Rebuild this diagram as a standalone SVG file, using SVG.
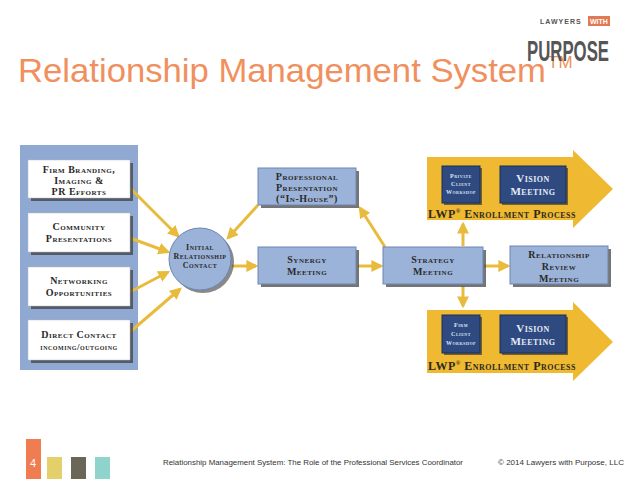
<svg xmlns="http://www.w3.org/2000/svg" width="638" height="479" viewBox="0 0 638 479">
<defs>
<style>
.sc{font-family:"Liberation Serif",serif;font-weight:bold;text-anchor:middle;fill:#2a2a2a;font-variant:small-caps;letter-spacing:0.5px}
.wb{fill:#fff;stroke:#bbb;stroke-width:0.5}
.bb{fill:#9bb3d8;stroke:#6c86b4;stroke-width:1}
.nb{fill:#2f4a80;stroke:#1b2e55;stroke-width:1}
.sh{fill:#3a3a3a;opacity:0.7}
.cn{stroke:#e9bb3c;stroke-width:3;fill:none}
.lb{font-family:"Liberation Serif",serif;font-weight:bold;fill:#2a2a1a;font-variant:small-caps;font-size:12px;letter-spacing:0.5px}
.ft{font-family:"Liberation Sans",sans-serif;font-size:7.5px;fill:#333}
</style>
<marker id="ah" viewBox="0 0 10 10" refX="8" refY="5" markerWidth="4" markerHeight="4" orient="auto"><path d="M0,0L10,5L0,10z" fill="#e9bb3c"/></marker>
</defs>
<rect width="638" height="479" fill="#fff"/>
<text x="18" y="82" font-family="Liberation Sans,sans-serif" font-size="33" fill="#f0905e" textLength="528" lengthAdjust="spacingAndGlyphs">Relationship Management System</text>
<text x="548" y="68" font-family="Liberation Sans,sans-serif" font-size="17" fill="#f0905e">TM</text>
<g id="logo">
<text x="540" y="24" font-family="Liberation Sans,sans-serif" font-size="7" font-weight="bold" fill="#555" letter-spacing="1">LAWYERS</text>
<rect x="588" y="16" width="22" height="10" fill="#e07a52"/>
<text x="590" y="24" font-family="Liberation Sans,sans-serif" font-size="7" font-weight="bold" fill="#fff">WITH</text>
<text x="527" y="61" font-family="Liberation Sans,sans-serif" font-size="30" font-weight="bold" fill="#555" textLength="82" lengthAdjust="spacingAndGlyphs">PURPOSE</text>
</g>
<g id="left-panel">
<rect x="20" y="145" width="118" height="225" fill="#8fa9d2"/>
</g>
<g id="connectors">
<line class="cn" x1="130" y1="188" x2="178" y2="236" marker-end="url(#ah)"/>
<line class="cn" x1="130" y1="238" x2="168" y2="252" marker-end="url(#ah)"/>
<line class="cn" x1="130" y1="292" x2="168" y2="272" marker-end="url(#ah)"/>
<line class="cn" x1="130" y1="332" x2="180" y2="289" marker-end="url(#ah)"/>
<line class="cn" x1="258" y1="205" x2="228" y2="238" marker-end="url(#ah)"/>
<line class="cn" x1="232" y1="266" x2="256" y2="266" marker-end="url(#ah)"/>
<line class="cn" x1="358" y1="266" x2="381" y2="266" marker-end="url(#ah)"/>
<line class="cn" x1="385" y1="247" x2="360" y2="208" marker-end="url(#ah)"/>
<line class="cn" x1="484" y1="266" x2="508" y2="266" marker-end="url(#ah)"/>
<line class="cn" x1="463" y1="246" x2="463" y2="224" marker-end="url(#ah)"/>
<line class="cn" x1="463" y1="286" x2="463" y2="306" marker-end="url(#ah)"/>
</g>
<g id="n-branding"><rect class="sh" x="31" y="163" width="102" height="38"/><rect class="wb" x="28" y="160" width="102" height="38"/>
<text class="sc" font-size="10" x="79" y="173">Firm Branding,</text><text class="sc" font-size="10" x="79" y="184">Imaging &amp;</text><text class="sc" font-size="10" x="79" y="195">PR Efforts</text></g>
<g id="n-community"><rect class="sh" x="31" y="216" width="102" height="39"/><rect class="wb" x="28" y="213" width="102" height="39"/>
<text class="sc" font-size="10" x="79" y="230">Community</text><text class="sc" font-size="10" x="79" y="242">Presentations</text></g>
<g id="n-networking"><rect class="sh" x="31" y="270" width="102" height="39"/><rect class="wb" x="28" y="267" width="102" height="39"/>
<text class="sc" font-size="10" x="79" y="284">Networking</text><text class="sc" font-size="10" x="79" y="296">Opportunities</text></g>
<g id="n-direct"><rect class="sh" x="31" y="323" width="102" height="40"/><rect class="wb" x="28" y="320" width="102" height="40"/>
<text class="sc" font-size="10" x="79" y="338">Direct Contact</text><text class="sc" font-size="9" x="79" y="350">incoming/outgoing</text></g>
<g id="n-initial"><circle cx="203" cy="262" r="31" fill="#3a3a3a" opacity="0.6"/><circle cx="200" cy="259" r="31" class="bb"/>
<text class="sc" font-size="8" x="200" y="250">Initial</text><text class="sc" font-size="8" x="200" y="259">Relationship</text><text class="sc" font-size="8" x="200" y="268">Contact</text></g>
<g id="n-professional"><rect class="sh" x="261" y="171" width="98" height="37"/><rect class="bb" x="258" y="168" width="98" height="37"/>
<text class="sc" font-size="10" x="307" y="180">Professional</text><text class="sc" font-size="10" x="307" y="191">Presentation</text><text class="sc" font-size="10" x="307" y="202">(“In-House”)</text></g>
<g id="n-synergy"><rect class="sh" x="261" y="250" width="98" height="37"/><rect class="bb" x="258" y="247" width="98" height="37"/>
<text class="sc" font-size="10" x="307" y="263">Synergy</text><text class="sc" font-size="10" x="307" y="275">Meeting</text></g>
<g id="n-strategy"><rect class="sh" x="386" y="250" width="100" height="37"/><rect class="bb" x="383" y="247" width="100" height="37"/>
<text class="sc" font-size="10" x="433" y="263">Strategy</text><text class="sc" font-size="10" x="433" y="275">Meeting</text></g>
<g id="n-review"><rect class="sh" x="513" y="249" width="98" height="38"/><rect class="bb" x="510" y="246" width="98" height="38"/>
<text class="sc" font-size="10" x="559" y="258">Relationship</text><text class="sc" font-size="10" x="559" y="270">Review</text><text class="sc" font-size="10" x="559" y="282">Meeting</text></g>
<g id="n-enroll-top">
<path d="M427,157H573V150L613,189L573,228V220H427z" fill="#f0b932"/>
<rect class="sh" x="444" y="168" width="38" height="37"/><rect class="nb" x="442" y="166" width="38" height="37"/>
<text class="sc" font-size="6" style="fill:#dde6f5" x="461" y="178">Private</text><text class="sc" font-size="6" style="fill:#dde6f5" x="461" y="186">Client</text><text class="sc" font-size="6" style="fill:#dde6f5" x="461" y="194">Workshop</text>
<rect class="sh" x="502" y="168" width="66" height="37"/><rect class="nb" x="500" y="166" width="66" height="37"/>
<text class="sc" font-size="11" style="fill:#e6ecf8" x="533" y="182">Vision</text><text class="sc" font-size="11" style="fill:#e6ecf8" x="533" y="195">Meeting</text>
<text class="lb" x="428" y="218">LWP<tspan font-size="6" dy="-5">®</tspan><tspan dy="5"> Enrollment Process</tspan></text>
</g>
<g id="n-enroll-bottom">
<path d="M427,310H573V302L613,342L573,381V373H427z" fill="#f0b932"/>
<rect class="sh" x="444" y="317" width="38" height="38"/><rect class="nb" x="442" y="315" width="38" height="38"/>
<text class="sc" font-size="6" style="fill:#dde6f5" x="461" y="327">Firm</text><text class="sc" font-size="6" style="fill:#dde6f5" x="461" y="336">Client</text><text class="sc" font-size="6" style="fill:#dde6f5" x="461" y="345">Workshop</text>
<rect class="sh" x="502" y="317" width="66" height="38"/><rect class="nb" x="500" y="315" width="66" height="38"/>
<text class="sc" font-size="11" style="fill:#e6ecf8" x="533" y="332">Vision</text><text class="sc" font-size="11" style="fill:#e6ecf8" x="533" y="345">Meeting</text>
<text class="lb" x="428" y="370">LWP<tspan font-size="6" dy="-5">®</tspan><tspan dy="5"> Enrollment Process</tspan></text>
</g>
<g id="footer">
<rect x="26" y="439" width="15" height="40" fill="#f07c52"/>
<text x="30" y="467" font-family="Liberation Sans,sans-serif" font-size="11" fill="#fff">4</text>
<rect x="47" y="457" width="15" height="22" fill="#e3d06a"/>
<rect x="71" y="457" width="15" height="22" fill="#6a6658"/>
<rect x="95" y="457" width="15" height="22" fill="#8fd4cc"/>
<text class="ft" x="163" y="465" textLength="300" lengthAdjust="spacingAndGlyphs">Relationship Management System: The Role of the Professional Services Coordinator</text>
<text class="ft" x="498" y="465" textLength="126" lengthAdjust="spacingAndGlyphs">© 2014 Lawyers with Purpose, LLC</text>
</g>
</svg>
